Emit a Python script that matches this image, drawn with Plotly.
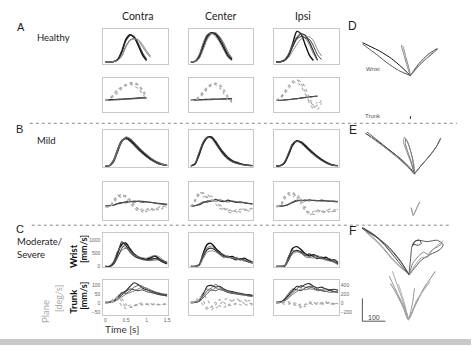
import plotly.graph_objects as go

W, H = 474, 347

# shared time base of every velocity trace [s]
T = [0.0, 0.1, 0.2, 0.3, 0.4, 0.5, 0.6, 0.7, 0.8, 0.9, 1.0, 1.1, 1.2, 1.3, 1.4, 1.5]

GROUPS = ["A", "B", "C"]
COLUMNS = ["Contra", "Center", "Ipsi"]
GROUP_TEXT = {"A": ["Healthy"], "B": ["Mild"], "C": ["Moderate/", "Severe"]}

# ---------------- wrist tangential velocity [mm/s] ----------------
wrist_A_contra = [
    [30, 30, 40, 120, 450, 900, 1070, 960, 650, 300, 80],
    [30, 30, 40, 110, 400, 850, 1050, 1000, 720, 380, 120],
    [30, 30, 40, 90, 280, 650, 880, 930, 850, 620, 380, 200],
    [30, 30, 40, 80, 250, 600, 850, 910, 880, 700, 450, 250],
]
wrist_A_center = [
    [30, 50, 250, 700, 1050, 1150, 1080, 850, 550, 250, 100],
    [30, 40, 200, 600, 980, 1130, 1120, 950, 650, 330, 130],
    [30, 40, 150, 500, 900, 1100, 1150, 1000, 750, 420, 180],
    [30, 60, 300, 750, 1080, 1120, 1000, 780, 480, 200, 80],
]
wrist_A_ipsi = [
    [30, 30, 80, 300, 750, 1200, 1100, 700, 300, 80],
    [30, 40, 100, 300, 650, 950, 1100, 1050, 800, 450, 100],
    [30, 40, 120, 350, 700, 1000, 1080, 950, 700, 350, 80],
    [30, 30, 80, 200, 450, 700, 900, 980, 1000, 850, 500, 250],
    [30, 30, 80, 250, 600, 900, 1000, 950, 900, 650, 300, 120],
]
wrist_B_contra = [
    [0, 10, 200, 600, 930, 1000, 920, 780, 620, 480, 350, 240, 150, 80, 40, 20],
    [0, 10, 150, 520, 880, 1030, 980, 840, 680, 530, 400, 280, 180, 110, 60, 30],
    [0, 20, 240, 650, 950, 990, 880, 730, 580, 440, 320, 220, 140, 80, 40, 20],
    [0, 10, 180, 560, 900, 1060, 1000, 860, 700, 560, 430, 300, 200, 130, 70, 40],
]
wrist_B_center = [
    [0, 80, 450, 850, 1050, 1040, 850, 620, 420, 270, 170, 110, 70, 40, 20, 10],
    [0, 60, 380, 800, 1020, 1060, 900, 680, 480, 320, 210, 140, 90, 50, 30, 15],
    [0, 100, 500, 880, 1040, 1000, 800, 580, 380, 240, 150, 90, 60, 30, 15, 10],
]
wrist_B_ipsi = [
    [0, 10, 120, 450, 800, 920, 860, 720, 580, 450, 330, 220, 130, 60, 20, 10],
    [0, 10, 100, 400, 750, 900, 880, 760, 620, 480, 350, 240, 150, 80, 30, 10],
    [0, 20, 160, 500, 830, 890, 820, 680, 540, 400, 290, 190, 110, 50, 20, 10],
]
wrist_C_contra = [
    [0, 0, 150, 550, 850, 900, 650, 450, 350, 300, 280, 330, 400, 300, 180, 120],
    [0, 0, 100, 480, 950, 800, 550, 400, 320, 280, 260, 280, 300, 250, 160, 100],
    [0, 0, 120, 400, 620, 700, 600, 450, 330, 260, 240, 220, 240, 260, 200, 120],
    [0, 10, 200, 600, 780, 720, 560, 420, 360, 340, 320, 380, 420, 380, 250, 150],
    [0, 0, 80, 350, 700, 860, 700, 500, 380, 300, 250, 260, 310, 280, 220, 160],
]
wrist_C_center = [
    [0, 0, 60, 500, 850, 880, 700, 550, 420, 350, 380, 300, 260, 320, 220, 150],
    [0, 0, 40, 380, 650, 700, 620, 480, 360, 400, 320, 250, 300, 240, 170, 120],
    [0, 0, 80, 450, 720, 780, 650, 520, 460, 380, 300, 350, 280, 200, 250, 180],
    [0, 0, 30, 300, 550, 600, 560, 450, 380, 330, 340, 290, 240, 260, 190, 130],
]
wrist_C_ipsi = [
    [0, 0, 20, 350, 700, 760, 650, 500, 400, 450, 380, 300, 350, 260, 180, 100],
    [0, 0, 10, 250, 550, 620, 560, 420, 480, 380, 300, 360, 280, 220, 260, 150],
    [0, 0, 30, 400, 620, 580, 520, 380, 330, 400, 420, 340, 260, 300, 200, 80],
    [0, 0, 15, 280, 480, 560, 500, 440, 360, 320, 360, 300, 240, 210, 160, 60],
]

# ---------------- trunk tangential velocity [mm/s] ----------------
trunk_A_contra = [
    [5, 5, 5, 6, 8, 9, 10, 12, 14, 15, 15],
    [0, 0, 2, 3, 5, 6, 8, 9, 10, 12, 12],
]
trunk_A_center = [
    [3, 3, 4, 5, 6, 7, 8, 8, 9, 10, 10],
    [0, 1, 2, 3, 3, 4, 5, 6, 6, 7, 8],
]
trunk_A_ipsi = [
    [0, 1, 3, 5, 8, 10, 14, 17, 20, 22, 25],
    [0, 0, 2, 4, 6, 9, 12, 15, 18, 21, 23],
]
trunk_B_contra = [
    [5, 5, 8, 15, 20, 25, 28, 25, 30, 28, 25, 22, 20, 18, 15, 12],
    [3, 5, 10, 18, 22, 20, 25, 30, 27, 22, 25, 24, 18, 15, 12, 10],
]
trunk_B_center = [
    [3, 5, 10, 20, 30, 28, 38, 30, 26, 34, 28, 22, 26, 20, 18, 15],
    [3, 6, 14, 26, 22, 34, 28, 36, 30, 24, 30, 26, 20, 22, 16, 14],
]
trunk_B_ipsi = [
    [2, 3, 5, 12, 22, 30, 34, 30, 36, 32, 30, 34, 30, 28, 30, 27],
    [2, 3, 6, 14, 26, 34, 30, 36, 30, 34, 32, 28, 32, 30, 26, 25],
]
trunk_C_contra = [
    [5, 5, 10, 30, 55, 70, 95, 115, 105, 85, 75, 70, 62, 55, 50, 48],
    [5, 6, 15, 40, 60, 55, 70, 90, 100, 95, 80, 65, 55, 50, 45, 42],
    [4, 5, 12, 25, 45, 65, 80, 75, 70, 75, 65, 60, 55, 48, 45, 40],
    [5, 5, 8, 20, 35, 50, 60, 70, 80, 90, 85, 75, 65, 58, 52, 50],
]
trunk_C_center = [
    [5, 5, 15, 50, 95, 100, 90, 95, 80, 70, 65, 60, 55, 50, 48, 45],
    [5, 5, 12, 40, 70, 85, 105, 90, 75, 68, 60, 55, 52, 50, 45, 42],
    [4, 5, 10, 30, 55, 75, 70, 80, 70, 60, 55, 52, 48, 45, 42, 40],
    [5, 5, 18, 60, 80, 70, 85, 75, 72, 65, 58, 55, 50, 46, 40, 38],
]
trunk_C_ipsi = [
    [5, 8, 20, 45, 70, 95, 90, 105, 110, 95, 85, 90, 80, 75, 78, 72],
    [5, 6, 15, 35, 60, 80, 100, 90, 85, 95, 80, 75, 82, 70, 65, 60],
    [4, 6, 25, 55, 80, 75, 70, 85, 95, 85, 75, 70, 65, 72, 66, 62],
    [5, 5, 12, 28, 50, 65, 80, 75, 80, 78, 70, 72, 68, 60, 62, 58],
]

# ---------------- trunk plane angular velocity [deg/s] ----------------
plane_A_contra = [
    [0, 40, 120, 220, 290, 360, 400, 380, 330, 200, 50],
    [0, 30, 90, 170, 260, 330, 370, 400, 350, 250, 100],
    [0, 50, 140, 250, 300, 340, 360, 330, 260, 150, 20],
]
plane_A_center = [
    [0, 0, 60, 170, 280, 360, 390, 330, 200, 60, -20],
    [0, 0, 40, 140, 250, 340, 380, 360, 250, 100, -40],
    [0, 10, 90, 200, 300, 370, 350, 280, 150, 20, -50],
]
plane_A_ipsi = [
    [0, 60, 180, 320, 430, 460, 380, 200, -50, -180, -100, 0],
    [0, 40, 140, 260, 380, 440, 420, 300, 60, -120, -200, -60],
    [0, 80, 200, 330, 400, 400, 320, 150, -20, -100, -40],
]
plane_B_contra = [
    [0, 0, 100, 240, 230, 200, 120, 40, -60, -80, -40, -90, -60, -10, 20, 0],
    [0, 0, 60, 200, 260, 180, 60, -20, -90, -40, -100, -60, -20, -70, -30, -10],
    [0, 10, 140, 220, 190, 230, 150, 20, -40, -110, -60, -20, -80, -40, 0, 10],
]
plane_B_center = [
    [0, 150, 300, 260, 180, 220, 100, 20, -40, -80, -60, -100, -50, -80, -30, -40],
    [0, 100, 260, 290, 200, 120, 150, 40, -20, -100, -130, -60, -110, -60, -70, -20],
    [0, 120, 240, 200, 250, 160, 60, -30, -60, -40, -90, -120, -70, -40, -90, -50],
]
plane_B_ipsi = [
    [0, 20, 200, 290, 260, 240, 150, 0, -140, -100, -60, -120, -90, -50, -100, -80],
    [0, 10, 150, 270, 300, 200, 60, -80, -110, -160, -120, -70, -130, -100, -60, -90],
    [0, 30, 220, 250, 200, 260, 120, -40, -170, -130, -80, -100, -60, -120, -80, -50],
]
plane_C_contra = [
    [0, 10, 60, 150, 40, -80, -40, -60, -20, 10, -30, -10, -40, -20, -30, -20],
    [0, 20, 100, 80, -60, -120, -90, -30, -50, -20, 0, -40, -20, -40, -10, -30],
    [0, 0, 40, 120, 100, -20, -100, -70, -10, -40, -20, -50, -10, -30, -40, -10],
]
plane_C_center = [
    [0, 20, 150, 60, -100, -150, -40, 80, 20, -60, 40, 100, 50, 0, 60, 20],
    [0, 10, 100, 200, 80, -60, -120, -30, 60, 120, 30, -20, 40, 80, 10, -10],
    [0, 30, 60, -40, -140, -80, 20, -60, -100, -20, -60, 0, -40, -20, -50, -30],
]
plane_C_ipsi = [
    [0, 20, 40, 10, -30, -50, -100, -20, 30, 0, -20, 20, -10, 10, -30, 0],
    [0, 10, -20, 30, 0, -60, -20, -80, -10, 20, -30, 0, 30, -20, 10, -20],
    [0, -10, 20, -20, 10, -10, -70, -40, 0, -30, 10, -20, 0, 20, -10, 10],
]

WRIST = {
    ("A", "Contra"): wrist_A_contra, ("A", "Center"): wrist_A_center, ("A", "Ipsi"): wrist_A_ipsi,
    ("B", "Contra"): wrist_B_contra, ("B", "Center"): wrist_B_center, ("B", "Ipsi"): wrist_B_ipsi,
    ("C", "Contra"): wrist_C_contra, ("C", "Center"): wrist_C_center, ("C", "Ipsi"): wrist_C_ipsi,
}
TRUNK = {
    ("A", "Contra"): trunk_A_contra, ("A", "Center"): trunk_A_center, ("A", "Ipsi"): trunk_A_ipsi,
    ("B", "Contra"): trunk_B_contra, ("B", "Center"): trunk_B_center, ("B", "Ipsi"): trunk_B_ipsi,
    ("C", "Contra"): trunk_C_contra, ("C", "Center"): trunk_C_center, ("C", "Ipsi"): trunk_C_ipsi,
}
PLANE = {
    ("A", "Contra"): plane_A_contra, ("A", "Center"): plane_A_center, ("A", "Ipsi"): plane_A_ipsi,
    ("B", "Contra"): plane_B_contra, ("B", "Center"): plane_B_center, ("B", "Ipsi"): plane_B_ipsi,
    ("C", "Contra"): plane_C_contra, ("C", "Center"): plane_C_center, ("C", "Ipsi"): plane_C_ipsi,
}

# ---------------- top-view hand / trunk paths [mm] ----------------
D_wrist_x = [
    [43, 80, 120, 170, 215, 252],
    [43, 75, 110, 150, 200, 252],
    [252, 236, 222, 213, 220, 233, 246, 252],
    [252, 290, 330, 370, 362, 322, 282, 252],
    [255, 295, 335, 372],
]
D_wrist_y = [
    [1296, 1278, 1258, 1226, 1188, 1152],
    [1290, 1266, 1240, 1208, 1175, 1152],
    [1152, 1200, 1250, 1284, 1278, 1230, 1185, 1152],
    [1152, 1205, 1245, 1270, 1260, 1226, 1188, 1152],
    [1155, 1200, 1240, 1268],
]
D_trunk_x = [[252, 253]]
D_trunk_y = [[962, 975]]

E_wrist_x = [
    [55, 100, 150, 200, 240, 270],
    [70, 110, 160, 205, 245, 270],
    [62, 105, 155, 210, 250, 272],
    [270, 255, 236, 222, 226, 240, 256, 268, 270],
    [270, 258, 242, 230, 232, 246, 260, 270],
    [270, 300, 335, 365, 383],
    [272, 305, 340, 370, 380, 385],
]
E_wrist_y = [
    [900, 870, 835, 795, 755, 722],
    [890, 860, 822, 785, 748, 722],
    [905, 872, 830, 788, 750, 720],
    [722, 770, 820, 860, 883, 862, 812, 762, 722],
    [722, 768, 815, 855, 875, 845, 795, 722],
    [722, 760, 800, 840, 874],
    [725, 765, 805, 848, 868, 880],
]
E_trunk_x = [[255, 260, 264, 272, 283, 294], [258, 263, 266, 278, 290]]
E_trunk_y = [[575, 555, 540, 555, 580, 600], [570, 548, 542, 565, 595]]

F_wrist_x = [
    [40, 100, 160, 210, 246],
    [45, 110, 170, 215, 248],
    [50, 115, 175, 220, 250],
    [42, 95, 140, 190, 230, 246],
    [55, 120, 180, 225, 246],
    [246, 252, 258, 265, 283, 326, 370, 396, 380, 340, 300, 262, 248],
    [248, 262, 290, 310, 330, 350, 375, 392],
    [250, 270, 300, 330, 345, 360, 395],
    [262, 272, 292, 300, 285, 268],
]
F_wrist_y = [
    [485, 450, 400, 340, 280],
    [480, 440, 385, 330, 282],
    [478, 420, 350, 305, 280],
    [488, 455, 410, 350, 300, 280],
    [470, 410, 340, 300, 282],
    [280, 340, 400, 420, 432, 426, 432, 412, 390, 370, 345, 300, 282],
    [282, 330, 365, 380, 370, 392, 405, 420],
    [283, 320, 355, 360, 385, 400, 430],
    [405, 428, 432, 418, 410, 415],
]
F_trunk_x = [
    [165, 190, 220, 243, 270, 310, 361],
    [174, 200, 225, 244, 280, 339],
    [160, 195, 230, 245, 262, 270],
    [200, 228, 246, 275, 320],
]
F_trunk_y = [
    [243, 200, 140, 84, 140, 220, 296],
    [296, 220, 150, 86, 170, 252],
    [275, 200, 130, 90, 160, 222],
    [240, 150, 88, 150, 240],
]
SCALE_X = [42, 42, 143]
SCALE_Y = [178, 78, 78]
SCALE_LABEL = "100"

# ---------------- layout geometry (pixels) ----------------
COL_PX = {"Contra": (104, 169), "Center": (190, 255), "Ipsi": (276, 341)}
ROW_PX = {
    "A": ((29, 64), (78, 113)),
    "B": ((131, 168), (183, 221)),
    "C": ((234, 269), (282, 317)),
}
T_RANGE = [-0.05, 1.52]
WRIST_RANGE = [-40, 1300]
TRUNK_RANGE = [-67, 128]
PLANE_RANGE = [-268, 512]

SOLID = [("#111111", 1.4), ("#2a2a2a", 1.2), ("#666666", 0.9), ("#808080", 0.9), ("#3a3a3a", 1.0)]
TRUNK_SOLID = [("#2a2a2a", 1.1), ("#555555", 1.0), ("#3d3d3d", 1.0), ("#707070", 0.9)]
DOT_COLOR = "#a8a8a8"
BOX_COLOR = "#c8c8c8"
TICK_FONT = dict(family="Liberation Sans", size=5, color="#666666")
LBL = "Lato"


def fx(x):
    return x / W


def fy(y):
    return 1 - y / H


fig = go.Figure()
layout = {}
counters = {"x": 0, "y": 0}


def new_axis(kind):
    counters[kind] += 1
    n = counters[kind]
    key = f"{kind}axis" if n == 1 else f"{kind}axis{n}"
    ref = kind if n == 1 else f"{kind}{n}"
    return key, ref


def base_axis(**kw):
    d = dict(showgrid=False, zeroline=False, showline=True, mirror=True,
             linecolor=BOX_COLOR, linewidth=1, ticks="", showticklabels=False,
             fixedrange=True)
    d.update(kw)
    return d


for g in GROUPS:
    (wy0, wy1), (ty0, ty1) = ROW_PX[g]
    for c in COLUMNS:
        x0, x1 = COL_PX[c]
        labelled = (g == "C" and c == "Contra")

        # wrist panel
        xk, xr = new_axis("x")
        yk, yr = new_axis("y")
        layout[xk] = base_axis(domain=[fx(x0), fx(x1)], range=T_RANGE, anchor=yr)
        ywrist = base_axis(domain=[fy(wy1), fy(wy0)], range=WRIST_RANGE, anchor=xr)
        if labelled:
            ywrist.update(showticklabels=True, tickvals=[0, 500, 1000],
                          tickfont=TICK_FONT, ticklabelstandoff=1)
        layout[yk] = ywrist
        for i, v in enumerate(WRIST[(g, c)]):
            col, wdt = SOLID[i % len(SOLID)]
            fig.add_trace(go.Scatter(x=T[:len(v)], y=v, mode="lines", xaxis=xr, yaxis=yr,
                                     line=dict(color=col, width=wdt, shape="spline", smoothing=0.8),
                                     hoverinfo="skip", showlegend=False))

        # trunk panel with plane angular velocity overlaid
        xk, xr = new_axis("x")
        yk, yr = new_axis("y")
        yk2, yr2 = new_axis("y")
        xtr = base_axis(domain=[fx(x0), fx(x1)], range=T_RANGE, anchor=yr)
        if labelled:
            xtr.update(showticklabels=True, tickvals=[0, 0.5, 1, 1.5],
                       ticktext=["0", "0.5", "1", "1.5"], tickfont=TICK_FONT,
                       ticklabelstandoff=0)
        layout[xk] = xtr
        ytr = base_axis(domain=[fy(ty1), fy(ty0)], range=TRUNK_RANGE, anchor=xr)
        if labelled:
            ytr.update(showticklabels=True, tickvals=[-50, 0, 50, 100],
                       tickfont=TICK_FONT, ticklabelstandoff=1)
        layout[yk] = ytr
        ypl = dict(overlaying=yr, anchor=xr, side="right", range=PLANE_RANGE,
                   showgrid=False, zeroline=False, showline=False, ticks="",
                   showticklabels=False, fixedrange=True)
        if g == "C" and c == "Ipsi":
            ypl.update(showticklabels=True, tickvals=[-200, 0, 200, 400],
                       tickfont=TICK_FONT, ticklabelstandoff=1)
        layout[yk2] = ypl
        for v in PLANE[(g, c)]:
            fig.add_trace(go.Scatter(x=T[:len(v)], y=v, mode="lines", xaxis=xr, yaxis=yr2,
                                     line=dict(color=DOT_COLOR, width=1.1, dash="dot",
                                               shape="spline", smoothing=0.7),
                                     hoverinfo="skip", showlegend=False))
        for i, v in enumerate(TRUNK[(g, c)]):
            col, wdt = TRUNK_SOLID[i % len(TRUNK_SOLID)]
            fig.add_trace(go.Scatter(x=T[:len(v)], y=v, mode="lines", xaxis=xr, yaxis=yr,
                                     line=dict(color=col, width=wdt, shape="spline", smoothing=0.7),
                                     hoverinfo="skip", showlegend=False))

# top-view drawing area on the right, 1 mm = 0.23 px
xk, xr = new_axis("x")
yk, yr = new_axis("y")
layout[xk] = dict(domain=[fx(355), 1], range=[0, 119 / 0.23], visible=False, anchor=yr, fixedrange=True)
layout[yk] = dict(domain=[fy(341), 1], range=[0, 341 / 0.23], visible=False, anchor=xr, fixedrange=True)


def draw_paths(xs, ys, colors, width):
    for i, (px_, py_) in enumerate(zip(xs, ys)):
        fig.add_trace(go.Scatter(x=px_, y=py_, mode="lines", xaxis=xr, yaxis=yr,
                                 line=dict(color=colors[i % len(colors)], width=width,
                                           shape="spline", smoothing=0.6),
                                 hoverinfo="skip", showlegend=False))


draw_paths(D_wrist_x, D_wrist_y, ["#111111", "#555555", "#888888", "#444444", "#999999"], 1.0)
draw_paths(D_trunk_x, D_trunk_y, ["#333333"], 1.0)
draw_paths(E_wrist_x, E_wrist_y, ["#222222", "#888888", "#555555", "#999999", "#777777", "#222222", "#777777"], 1.0)
draw_paths(E_trunk_x, E_trunk_y, ["#888888", "#aaaaaa"], 1.0)
draw_paths(F_wrist_x, F_wrist_y, ["#222222", "#555555", "#888888", "#333333", "#999999",
                                  "#444444", "#777777", "#999999", "#333333"], 0.9)
draw_paths(F_trunk_x, F_trunk_y, ["#777777", "#999999", "#888888", "#aaaaaa"], 0.9)
fig.add_trace(go.Scatter(x=SCALE_X, y=SCALE_Y, mode="lines", xaxis=xr, yaxis=yr,
                         line=dict(color="#555555", width=1), hoverinfo="skip", showlegend=False))

# ---------------- text ----------------
ann = []


def text(x, y, s, size, color="#222222", family=LBL, angle=0, xanchor="center", bold=False):
    ann.append(dict(x=fx(x), y=fy(y), xref="paper", yref="paper", text=f"<b>{s}</b>" if bold else s,
                    showarrow=False, textangle=angle, xanchor=xanchor, yanchor="middle",
                    font=dict(family=family, size=size, color=color)))


text(138, 16, "Contra", 10.5)
text(222, 16, "Center", 10.5)
text(305, 16, "Ipsi", 10.5)

text(21, 27, "A", 11, family="Liberation Sans")
text(20, 130, "B", 11, family="Liberation Sans")
text(20, 230, "C", 11, family="Liberation Sans")
text(355, 26, "D", 12, family="Liberation Sans")
text(355, 131, "E", 12, family="Liberation Sans")
text(355, 232, "F", 12, family="Liberation Sans")

text(35, 38, GROUP_TEXT["A"][0], 9.5, xanchor="left")
text(35, 141, GROUP_TEXT["B"][0], 9.5, xanchor="left")
text(15, 243, GROUP_TEXT["C"][0], 9.5, xanchor="left")
text(15, 256, GROUP_TEXT["C"][1], 9.5, xanchor="left")

text(74, 258, "Wrist", 9.5, color="#111111", angle=-90, bold=True)
text(84, 250, "[mm/s]", 9, color="#111111", angle=-90, bold=True)
text(74, 303, "Trunk", 9.5, color="#111111", angle=-90, bold=True)
text(84, 297, "[mm/s]", 9, color="#111111", angle=-90, bold=True)
text(45, 313, "Plane", 9.5, color="#aaaaaa", angle=-90)
text(59, 300, "[deg/s]", 9, color="#aaaaaa", angle=-90)
text(123, 331, "Time [s]", 10, color="#333333")

text(366, 69, "Wrist", 6, color="#555555", family="Liberation Sans", xanchor="left")
text(365, 117, "Trunk", 6, color="#555555", family="Liberation Sans", xanchor="left")
text(376, 319, SCALE_LABEL, 7, color="#444444", family="Liberation Sans")

shapes = [
    dict(type="line", xref="paper", yref="paper", x0=fx(30), x1=fx(460), y0=fy(124), y1=fy(124),
         line=dict(color="#888888", width=1, dash="dot")),
    dict(type="line", xref="paper", yref="paper", x0=fx(32), x1=fx(452), y0=fy(226.5), y1=fy(226.5),
         line=dict(color="#888888", width=1, dash="dot")),
    dict(type="rect", xref="paper", yref="paper", x0=0, x1=1, y0=0, y1=fy(341),
         fillcolor="#c8c8c8", line=dict(width=0)),
]

fig.update_layout(
    width=W, height=H, autosize=False,
    margin=dict(l=0, r=0, t=0, b=0),
    paper_bgcolor="white", plot_bgcolor="rgba(0,0,0,0)",
    showlegend=False, annotations=ann, shapes=shapes,
    **layout,
)
fig.write_html("out.html")
